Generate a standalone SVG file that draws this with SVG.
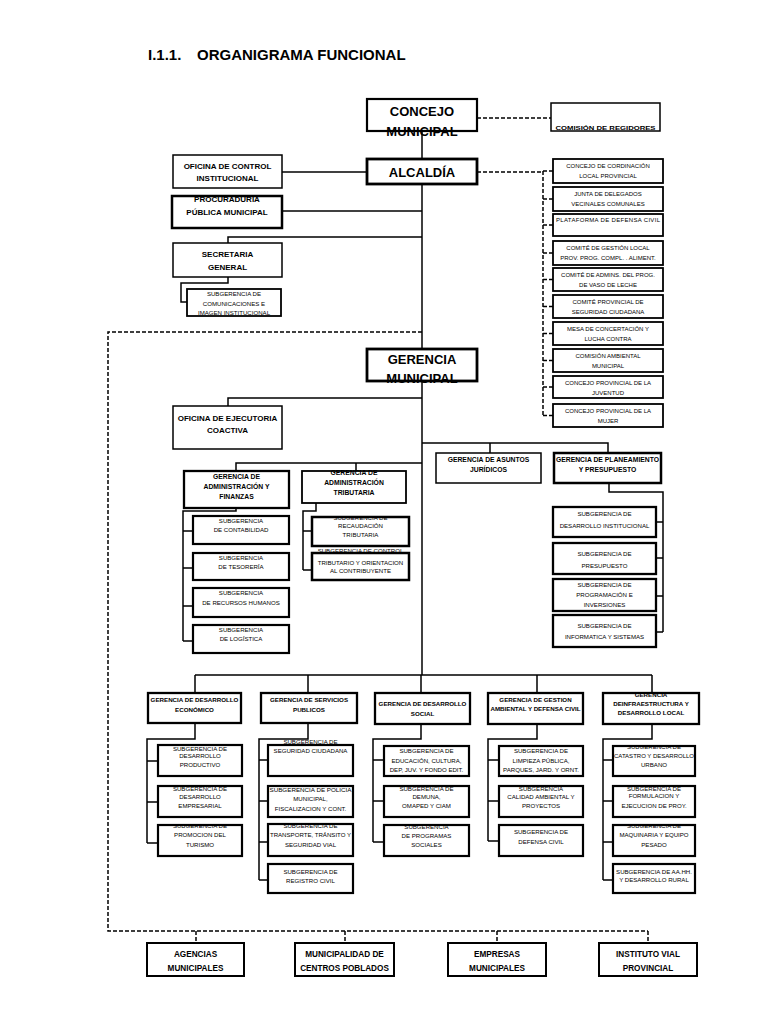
<svg xmlns="http://www.w3.org/2000/svg" width="768" height="1024" viewBox="0 0 768 1024">
<style>
text{font-family:"Liberation Sans",Arial,sans-serif;fill:#000;text-anchor:middle}
.title{font-size:15px;font-weight:bold;text-anchor:start}
.big{font-size:13px;font-weight:bold}
.b8{font-size:8px;font-weight:bold}
.b7{font-size:6.8px;font-weight:bold}
.b6{font-size:6.2px;font-weight:bold}
.bb{font-size:8.2px;font-weight:bold}
.s{font-size:6.1px}
.r{font-size:6px}
rect{fill:#fff;stroke:#000;stroke-width:1.8}
rect.thk{stroke-width:2.8}
.ln{fill:none;stroke:#000;stroke-width:1.5}
.dl{fill:none;stroke:#000;stroke-width:1.5;stroke-dasharray:4 2}
</style>
<rect x="0" y="0" width="768" height="1024" style="fill:#fff;stroke:none"/>
<text class="title" x="148" y="60">I.1.1.<tspan x="197">ORGANIGRAMA FUNCIONAL</tspan></text>

<g id="connectors">
<path class="ln" d="M422,131V675"/>
<path class="dl" d="M477,118H551"/>
<path class="dl" d="M477,172H543M543,171V416M543,171H553M543,199H553M543,225H553M543,253H553M543,279.5H553M543,306.5H553M543,333.5H553M543,360.5H553M543,387H553M543,415.5H553"/>
<path class="ln" d="M282,172H367"/>
<path class="ln" d="M282,211H422"/>
<path class="ln" d="M422,237H228V243"/>
<path class="ln" d="M228,277V283H181V302H187"/>
<path class="dl" d="M422,332H108V931H648M196,931V943M345,931V943M497,931V943M648,931V943"/>
<path class="ln" d="M422,398H228V406"/>
<path class="ln" d="M422,443H608V453M490,443V453"/>
<path class="ln" d="M609,483V492H663V632M663,522H656M663,558H656M663,596H656M663,632H656"/>
<path class="ln" d="M422,463H236V471M356,463V471"/>
<path class="ln" d="M236,508V511H183V641M183,531H193M183,568H193M183,606H193M183,641H193"/>
<path class="ln" d="M316,503V511H303V570M303,531H312M303,570H312"/>
<path class="ln" d="M195,675H652M195,675V693M308,675V693M421,675V693M537,675V693M652,675V693"/>
<path class="ln" d="M195,723V739H147V843M147,761H158M147,802H158M147,843H158"/>
<path class="ln" d="M308,723V739H259V880M259,760H268M259,801H268M259,842H268M259,880H268"/>
<path class="ln" d="M421,724V739H373V842M373,760H384M373,801H384M373,842H384"/>
<path class="ln" d="M537,724V739H488V841M488,760H499M488,801H499M488,841H499"/>
<path class="ln" d="M652,724V739H603V880M603,760H613M603,801H613M603,842H613M603,880H613"/>
</g>

<g id="concejo"><rect x="367" y="99" width="110" height="32" style="stroke-width:2.2"/><text class="big" x="422" y="116">CONCEJO</text><text class="big" x="422" y="136">MUNICIPAL</text></g>
<g id="comision"><rect x="551" y="103" width="109" height="28" style="stroke-width:1.5"/><text class="b6" x="605.5" y="130" textLength="100" lengthAdjust="spacingAndGlyphs">COMISIÓN DE REGIDORES</text></g>
<g id="alcaldia"><rect class="thk" x="367" y="159" width="110" height="25"/><text class="big" x="422" y="177">ALCALDÍA</text></g>
<g id="oci"><rect x="173" y="155" width="109" height="33" style="stroke-width:1.5"/><text class="b8" x="227.5" y="168.5">OFICINA DE CONTROL</text><text class="b8" x="227.5" y="181">INSTITUCIONAL</text></g>
<g id="procuraduria"><rect x="172" y="196" width="110" height="32" style="stroke-width:2.5"/><text class="b8" x="227" y="202">PROCURADURÍA</text><text class="b8" x="227" y="214.5">PÚBLICA MUNICIPAL</text></g>
<g id="secretaria"><rect x="173" y="243" width="109" height="34" style="stroke-width:1.5"/><text class="b8" x="227.5" y="257">SECRETARIA</text><text class="b8" x="227.5" y="269.5">GENERAL</text></g>
<g id="sub-comunicaciones"><rect x="187" y="289" width="94" height="27"/><text class="s" x="234" y="295.5">SUBGERENCIA DE</text><text class="s" x="234" y="305.5">COMUNICACIONES E</text><text class="s" x="234" y="314.5">IMAGEN INSTITUCIONAL</text></g>

<g id="r1"><rect x="553" y="159" width="110" height="24"/><text class="r" x="608" y="168">CONCEJO DE CORDINACIÓN</text><text class="r" x="608" y="178">LOCAL PROVINCIAL</text></g>
<g id="r2"><rect x="553" y="187" width="110" height="24"/><text class="r" x="608" y="196">JUNTA DE DELEGADOS</text><text class="r" x="608" y="206">VECINALES COMUNALES</text></g>
<g id="r3"><rect x="553" y="214" width="110" height="22"/><text class="r" x="608" y="222" textLength="104" lengthAdjust="spacing">PLATAFORMA DE   DEFENSA CIVIL</text></g>
<g id="r4"><rect x="553" y="241" width="110" height="24"/><text class="r" x="608" y="250">COMITÉ DE GESTIÓN LOCAL</text><text class="r" x="608" y="260">PROV. PROG. COMPL. . ALIMENT.</text></g>
<g id="r5"><rect x="553" y="268" width="110" height="23"/><text class="r" x="608" y="277">COMITÉ DE ADMINS. DEL PROG.</text><text class="r" x="608" y="287">DE VASO DE LECHE</text></g>
<g id="r6"><rect x="553" y="295" width="110" height="23"/><text class="r" x="608" y="304">COMITÉ PROVINCIAL DE</text><text class="r" x="608" y="314">SEGURIDAD CIUDADANA</text></g>
<g id="r7"><rect x="553" y="322" width="110" height="23"/><text class="r" x="608" y="331">MESA DE CONCERTACIÓN Y</text><text class="r" x="608" y="341">LUCHA CONTRA</text></g>
<g id="r8"><rect x="553" y="349" width="110" height="23"/><text class="r" x="608" y="358">COMISIÓN AMBIENTAL</text><text class="r" x="608" y="368">MUNICIPAL</text></g>
<g id="r9"><rect x="553" y="376" width="110" height="22"/><text class="r" x="608" y="385">CONCEJO PROVINCIAL DE LA</text><text class="r" x="608" y="395">JUVENTUD</text></g>
<g id="r10"><rect x="553" y="404" width="110" height="23"/><text class="r" x="608" y="413">CONCEJO PROVINCIAL DE LA</text><text class="r" x="608" y="423">MUJER</text></g>

<g id="gerencia-municipal"><rect class="thk" x="367" y="349" width="110" height="32"/><text class="big" x="422" y="364">GERENCIA</text><text class="big" x="422" y="383">MUNICIPAL</text></g>
<g id="ejecutoria"><rect x="173" y="406" width="109" height="43" style="stroke-width:1.5"/><text class="b8" x="227.5" y="420.5">OFICINA DE EJECUTORIA</text><text class="b8" x="227.5" y="433">COACTIVA</text></g>
<g id="asuntos"><rect x="436" y="453" width="105" height="30" style="stroke-width:1.5"/><text class="b7" x="488.5" y="461.7">GERENCIA DE ASUNTOS</text><text class="b7" x="488.5" y="471.7">JURÍDICOS</text></g>
<g id="planeamiento"><rect x="554" y="453" width="107" height="30" style="stroke-width:2.5"/><text class="b7" x="607.5" y="461.7">GERENCIA DE PLANEAMIENTO</text><text class="b7" x="607.5" y="471.7">Y PRESUPUESTO</text></g>
<g id="p1"><rect x="553" y="507" width="103" height="30" style="stroke-width:2.3"/><text class="s" x="604.5" y="516.2">SUBGERENCIA DE</text><text class="s" x="604.5" y="528.2">DESARROLLO INSTITUCIONAL</text></g>
<g id="p2"><rect x="553" y="543" width="103" height="31" style="stroke-width:2.3"/><text class="s" x="604.5" y="555.5">SUBGERENCIA DE</text><text class="s" x="604.5" y="568">PRESUPUESTO</text></g>
<g id="p3"><rect x="553" y="579" width="103" height="32" style="stroke-width:2.3"/><text class="s" x="604.5" y="587.2">SUBGERENCIA DE</text><text class="s" x="604.5" y="597.2">PROGRAMACIÓN E</text><text class="s" x="604.5" y="606.5">INVERSIONES</text></g>
<g id="p4"><rect x="553" y="615" width="103" height="32" style="stroke-width:2.3"/><text class="s" x="604.5" y="628">SUBGERENCIA DE</text><text class="s" x="604.5" y="639">INFORMATICA Y SISTEMAS</text></g>

<g id="finanzas"><rect x="184" y="471" width="105" height="37" style="stroke-width:2.3"/><text class="b7" x="236.5" y="479">GERENCIA DE</text><text class="b7" x="236.5" y="489">ADMINISTRACIÓN Y</text><text class="b7" x="236.5" y="499">FINANZAS</text></g>
<g id="tributaria"><rect x="302" y="471" width="104" height="32"/><text class="b7" x="354" y="475">GERENCIA DE</text><text class="b7" x="354" y="485">ADMINISTRACIÓN</text><text class="b7" x="354" y="494.7">TRIBUTARIA</text></g>
<g id="s1"><rect x="193" y="516" width="96" height="28" style="stroke-width:2.2"/><text class="s" x="241" y="523.2">SUBGERENCIA</text><text class="s" x="241" y="532.2">DE CONTABILIDAD</text></g>
<g id="s2"><rect x="193" y="553" width="96" height="27" style="stroke-width:2.2"/><text class="s" x="241" y="559.5">SUBGERENCIA</text><text class="s" x="241" y="569">DE TESORERÍA</text></g>
<g id="s3"><rect x="193" y="588" width="96" height="29" style="stroke-width:2.2"/><text class="s" x="241" y="595">SUBGERENCIA</text><text class="s" x="241" y="604.5">DE RECURSOS HUMANOS</text></g>
<g id="s4"><rect x="193" y="625" width="96" height="28" style="stroke-width:2.2"/><text class="s" x="241" y="631.5">SUBGERENCIA</text><text class="s" x="241" y="640.5">DE LOGÍSTICA</text></g>
<g id="t1"><rect x="312" y="517" width="97" height="29" style="stroke-width:2.5"/><text class="s" x="360.5" y="519.5">SUBGERENCIA DE</text><text class="s" x="360.5" y="528.2">RECAUDACIÓN</text><text class="s" x="360.5" y="537.2">TRIBUTARIA</text></g>
<g id="t2"><rect x="312" y="553" width="97" height="27" style="stroke-width:2.5"/><text class="s" x="360.5" y="553.2">SUBGERENCIA DE CONTROL</text><text class="s" x="360.5" y="564.9">TRIBUTARIO Y ORIENTACION</text><text class="s" x="360.5" y="573.2">AL CONTRIBUYENTE</text></g>

<g id="g-economico"><rect x="148" y="693" width="93" height="30" style="stroke-width:2.3"/><text class="b6" x="194.5" y="702.2">GERENCIA DE DESARROLLO</text><text class="b6" x="194.5" y="712.2">ECONÓMICO</text></g>
<g id="g-servicios"><rect x="261" y="693" width="96" height="30" style="stroke-width:2.3"/><text class="b6" x="309" y="702.2">GERENCIA DE SERVICIOS</text><text class="b6" x="309" y="712.2">PUBLICOS</text></g>
<g id="g-social"><rect x="375" y="693" width="95" height="31" style="stroke-width:2.3"/><text class="b6" x="422.5" y="706">GERENCIA DE DESARROLLO</text><text class="b6" x="422.5" y="715.5">SOCIAL</text></g>
<g id="g-ambiental"><rect x="488" y="693" width="95" height="31" style="stroke-width:2.3"/><text class="b6" x="535.5" y="702.2">GERENCIA DE GESTION</text><text class="b6" x="535.5" y="710.5">AMBIENTAL Y DEFENSA CIVIL</text></g>
<g id="g-infra"><rect x="603" y="693" width="96" height="31" style="stroke-width:2.3"/><text class="b6" x="651" y="697">GERENCIA</text><text class="b6" x="651" y="706.2">DEINFRAESTRUCTURA Y</text><text class="b6" x="651" y="715">DESARROLLO LOCAL</text></g>

<g id="e1"><rect x="158" y="745" width="84" height="31" style="stroke-width:2.2"/><text class="s" x="200" y="750.5">SUBGERENCIA DE</text><text class="s" x="200" y="758.2">DESARROLLO</text><text class="s" x="200" y="767.2">PRODUCTIVO</text></g>
<g id="e2"><rect x="158" y="786" width="84" height="31" style="stroke-width:2.2"/><text class="s" x="200" y="790.5">SUBGERENCIA DE</text><text class="s" x="200" y="799">DESARROLLO</text><text class="s" x="200" y="808">EMPRESARIAL</text></g>
<g id="e3"><rect x="158" y="825" width="84" height="31" style="stroke-width:2.2"/><text class="s" x="200" y="828.2">SUBGERENCIA DE</text><text class="s" x="200" y="837.2">PROMOCION DEL</text><text class="s" x="200" y="846.5">TURISMO</text></g>

<g id="sp1"><rect x="268" y="745" width="85" height="31" style="stroke-width:2.2"/><text class="s" x="310.5" y="744">SUBGERENCIA DE</text><text class="s" x="310.5" y="753.2">SEGURIDAD CIUDADANA</text></g>
<g id="sp2"><rect x="268" y="786" width="85" height="31" style="stroke-width:2.2"/><text class="s" x="310.5" y="792.2" textLength="82" lengthAdjust="spacingAndGlyphs">SUBGERENCIA DE POLICIA</text><text class="s" x="310.5" y="801.2">MUNICIPAL,</text><text class="s" x="310.5" y="810.5">FISCALIZACION Y CONT.</text></g>
<g id="sp3"><rect x="268" y="824" width="85" height="32" style="stroke-width:2.2"/><text class="s" x="310.5" y="828.2">SUBGERENCIA DE</text><text class="s" x="310.5" y="837.2">TRANSPORTE, TRÁNSITO Y</text><text class="s" x="310.5" y="846.5">SEGURIDAD VIAL</text></g>
<g id="sp4"><rect x="268" y="864" width="85" height="29" style="stroke-width:2.2"/><text class="s" x="310.5" y="874">SUBGERENCIA DE</text><text class="s" x="310.5" y="883.2">REGISTRO CIVIL</text></g>

<g id="ds1"><rect x="384" y="746" width="85" height="30" style="stroke-width:2.2"/><text class="s" x="426.5" y="753.2">SUBGERENCIA DE</text><text class="s" x="426.5" y="763">EDUCACIÓN, CULTURA,</text><text class="s" x="426.5" y="771.5">DEP, JUV. Y FONDO EDIT.</text></g>
<g id="ds2"><rect x="384" y="786" width="85" height="31" style="stroke-width:2.2"/><text class="s" x="426.5" y="790.5">SUBGERENCIA DE</text><text class="s" x="426.5" y="799">DEMUNA,</text><text class="s" x="426.5" y="808">OMAPED Y CIAM</text></g>
<g id="ds3"><rect x="384" y="825" width="85" height="31" style="stroke-width:2.2"/><text class="s" x="426.5" y="829">SUBGERENCIA</text><text class="s" x="426.5" y="838">DE PROGRAMAS</text><text class="s" x="426.5" y="846.5">SOCIALES</text></g>

<g id="ga1"><rect x="499" y="746" width="84" height="30" style="stroke-width:2.2"/><text class="s" x="541" y="753.2">SUBGERENCIA DE</text><text class="s" x="541" y="763">LIMPIEZA PÚBLICA,</text><text class="s" x="541" y="771.5">PARQUES, JARD. Y ORNT.</text></g>
<g id="ga2"><rect x="499" y="786" width="84" height="31" style="stroke-width:2.2"/><text class="s" x="541" y="790.5">SUBGERENCIA</text><text class="s" x="541" y="799">CALIDAD AMBIENTAL Y</text><text class="s" x="541" y="808">PROYECTOS</text></g>
<g id="ga3"><rect x="499" y="825" width="84" height="31" style="stroke-width:2.2"/><text class="s" x="541" y="834">SUBGERENCIA DE</text><text class="s" x="541" y="844">DEFENSA CIVIL</text></g>

<g id="i1"><rect x="613" y="746" width="82" height="30" style="stroke-width:2.2"/><text class="s" x="654" y="749">SUBGERENCIA DE</text><text class="s" x="654" y="758.2" textLength="80" lengthAdjust="spacingAndGlyphs">CATASTRO Y DESARROLLO</text><text class="s" x="654" y="767.2">URBANO</text></g>
<g id="i2"><rect x="613" y="786" width="82" height="31" style="stroke-width:2.2"/><text class="s" x="654" y="790.5">SUBGERENCIA DE</text><text class="s" x="654" y="798.2">FORMULACION Y</text><text class="s" x="654" y="808.2">EJECUCION DE PROY.</text></g>
<g id="i3"><rect x="613" y="825" width="82" height="31" style="stroke-width:2.2"/><text class="s" x="654" y="828.2">SUBGERENCIA DE</text><text class="s" x="654" y="837.2">MAQUINARIA Y EQUIPO</text><text class="s" x="654" y="846.5">PESADO</text></g>
<g id="i4"><rect x="613" y="864" width="82" height="29" style="stroke-width:2.2"/><text class="s" x="654" y="874">SUBGERENCIA DE AA.HH.</text><text class="s" x="654" y="882.2">Y DESARROLLO RURAL</text></g>

<g id="agencias"><rect x="147" y="943" width="97" height="33" style="stroke-width:2"/><text class="bb" x="195.5" y="956.8">AGENCIAS</text><text class="bb" x="195.5" y="970.8">MUNICIPALES</text></g>
<g id="centros-poblados"><rect x="295" y="943" width="99" height="33" style="stroke-width:2"/><text class="bb" x="344.5" y="956.8">MUNICIPALIDAD DE</text><text class="bb" x="344.5" y="970.8">CENTROS POBLADOS</text></g>
<g id="empresas"><rect x="448" y="943" width="98" height="33" style="stroke-width:2"/><text class="bb" x="497" y="956.8">EMPRESAS</text><text class="bb" x="497" y="970.8">MUNICIPALES</text></g>
<g id="instituto-vial"><rect x="599" y="943" width="98" height="33" style="stroke-width:2"/><text class="bb" x="648" y="956.8">INSTITUTO VIAL</text><text class="bb" x="648" y="970.8">PROVINCIAL</text></g>
</svg>
